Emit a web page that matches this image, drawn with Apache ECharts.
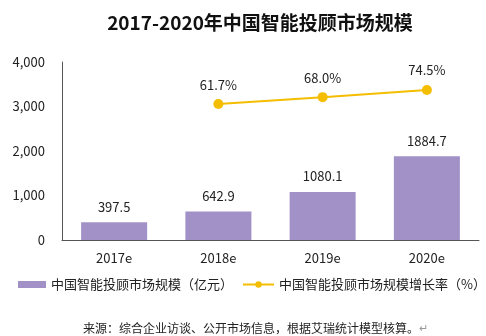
<!DOCTYPE html>
<html><head><meta charset="utf-8">
<script src="https://cdn.jsdelivr.net/npm/echarts@6/dist/echarts.min.js"></script>
<style>html,body{margin:0;padding:0;background:#fff}#c{width:486px;height:336px}</style>
</head><body><div id="c"></div>
<script>
const categories = ['2017e', '2018e', '2019e', '2020e'];
const marketSize = [397.5, 642.9, 1080.1, 1884.7];
const growthRate = [null, 61.7, 68.0, 74.5];
const yTicks = [0, 1000, 2000, 3000, 4000];
const FONT = '"Noto Sans CJK SC", "Noto Sans", sans-serif';
const barName = '中国智能投顾市场规模（亿元）';
const lineName = '中国智能投顾市场规模增长率（%）';

const chart = echarts.init(document.getElementById('c'));
const legendText = { fontSize: 13, color: '#222', fontFamily: FONT };
chart.setOption({
  animation: false,
  backgroundColor: '#fff',
  textStyle: { fontFamily: FONT },
  title: [{
    text: '2017-2020年中国智能投顾市场规模',
    left: 255, top: 8, textAlign: 'center',
    textStyle: { fontSize: 19, fontWeight: 'bold', color: '#111', fontFamily: FONT }
  }, {
    text: '来源：综合企业访谈、公开市场信息，根据艾瑞统计模型核算。{r|↵}',
    left: 78, top: 317,
    textStyle: { fontSize: 12, fontWeight: 'normal', color: '#222', fontFamily: FONT,
      rich: { r: { fontSize: 11, color: '#999', fontFamily: FONT } } }
  }],
  legend: [{
    left: 13, top: 273, itemWidth: 28, itemHeight: 7, itemGap: 4,
    textStyle: legendText,
    data: [{ name: barName, icon: 'rect' }]
  }, {
    left: 237, top: 273, itemWidth: 31, itemHeight: 8,
    textStyle: legendText,
    data: [{ name: lineName }]
  }],
  grid: { left: 62, right: 7, top: 62, bottom: 96 },
  xAxis: {
    type: 'category', data: categories,
    axisLine: { lineStyle: { color: '#555', width: 1 } },
    axisTick: { show: false },
    axisLabel: { fontSize: 13, color: '#222', margin: 12, fontFamily: FONT }
  },
  yAxis: [{
    type: 'value', min: yTicks[0], max: yTicks[yTicks.length - 1], interval: 1000,
    axisLine: { show: true, lineStyle: { color: '#555', width: 1 } },
    axisTick: { show: false },
    splitLine: { show: false },
    axisLabel: { fontSize: 13, color: '#222', margin: 17, fontFamily: FONT,
      formatter: v => v.toLocaleString('en-US') }
  }, {
    type: 'value', min: -62, max: 100, show: false, splitLine: { show: false }
  }],
  series: [{
    name: barName, type: 'bar', data: marketSize,
    barWidth: 66,
    itemStyle: { color: '#A291C7' },
    label: { show: true, position: 'top', distance: 9, fontSize: 13, color: '#222', fontFamily: FONT }
  }, {
    name: lineName, type: 'line', yAxisIndex: 1, data: growthRate,
    symbol: 'circle', symbolSize: 10,
    lineStyle: { color: '#F5BD00', width: 2 },
    itemStyle: { color: '#F5BD00' },
    label: { show: true, position: 'top', distance: 8, fontSize: 13, color: '#222', fontFamily: FONT,
      formatter: p => p.value.toFixed(1) + '%' }
  }]
});
</script></body></html>
